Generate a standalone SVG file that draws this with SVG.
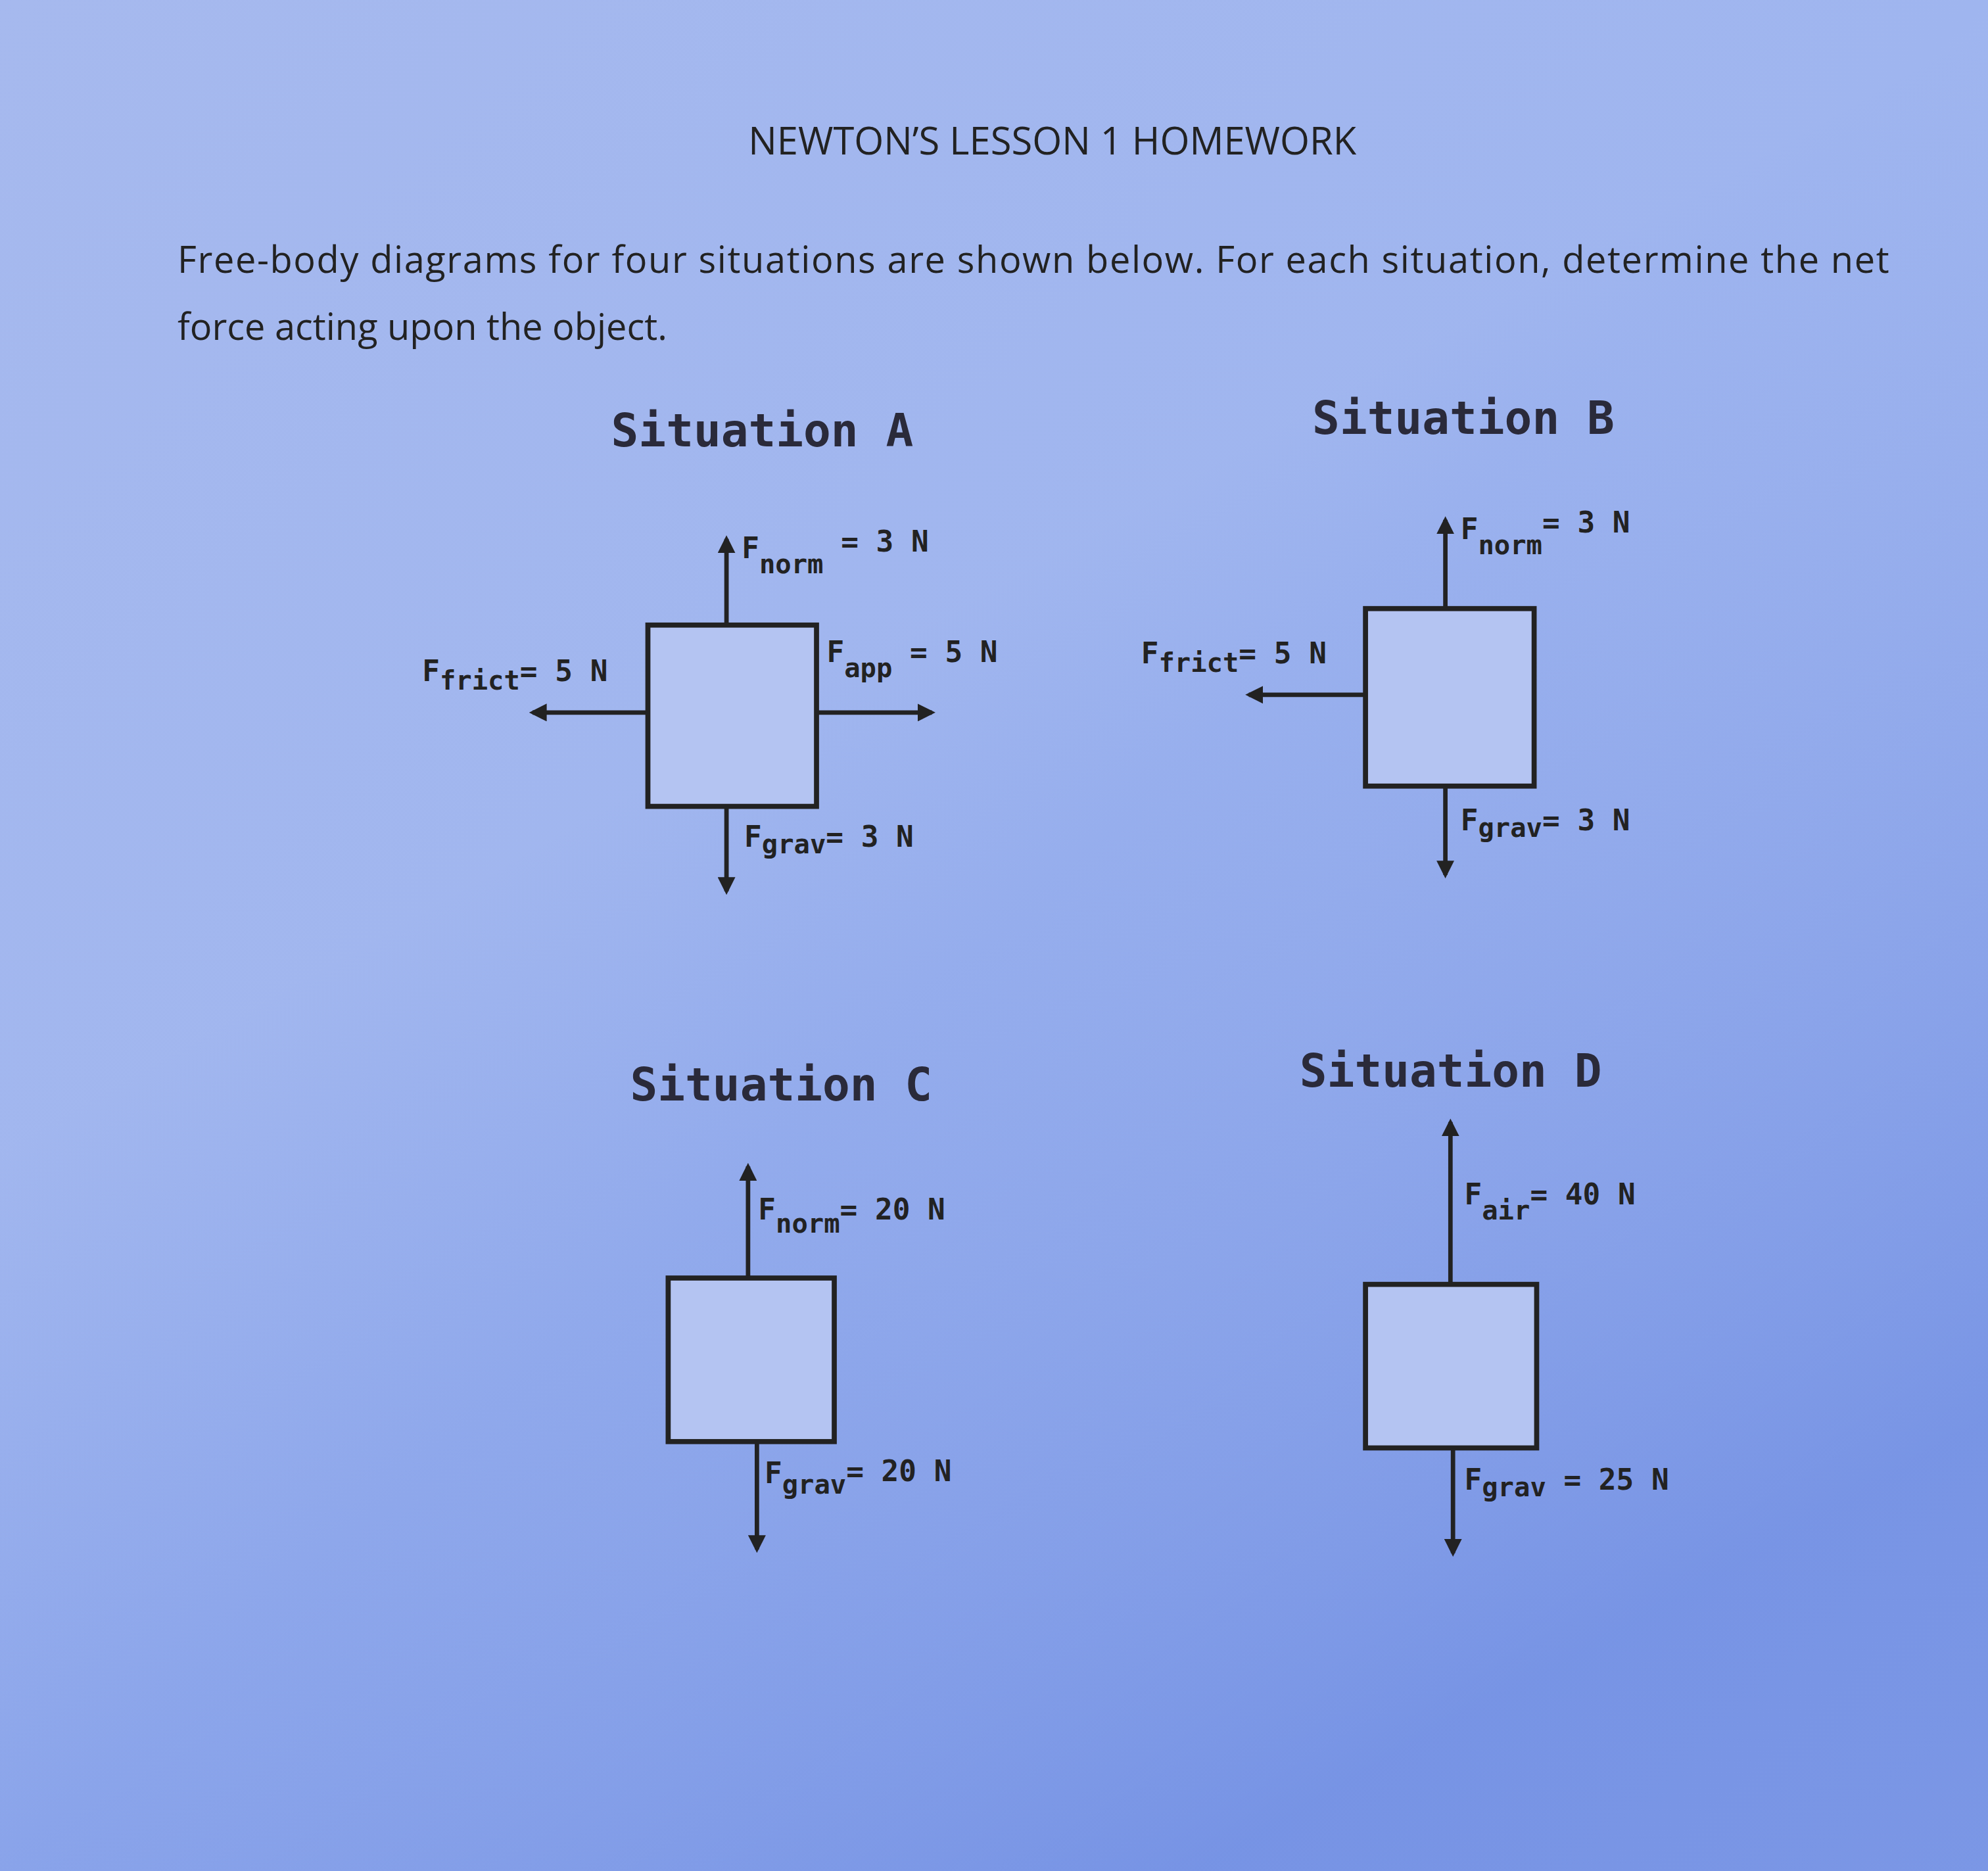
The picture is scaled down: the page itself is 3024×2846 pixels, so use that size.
<svg xmlns="http://www.w3.org/2000/svg" width="3024" height="2846" viewBox="0 0 3024 2846">
<defs>
<linearGradient id="bg" x1="0" y1="0" x2="1" y2="1">
<stop offset="0" stop-color="#a6b9ee"/><stop offset="0.5" stop-color="#9fb5ef"/><stop offset="1" stop-color="#b7c7f3"/>
</linearGradient>
<linearGradient id="bg2" x1="0" y1="0" x2="0.6" y2="1">
<stop offset="0.45" stop-color="#5c7fe0" stop-opacity="0"/><stop offset="1" stop-color="#4a6fda" stop-opacity="0.55"/>
</linearGradient>
<marker id="ah" viewBox="0 0 10 10" refX="8" refY="5" markerWidth="4" markerHeight="4" orient="auto"><path d="M0,0 L10,5 L0,10 z" fill="#222"/></marker>
<style>
.t{font-family:"Open Sans","Liberation Sans",sans-serif;fill:#222}
.s{font-family:"DejaVu Sans Mono","Liberation Mono",monospace;fill:#2a2a3a;font-size:36px;font-weight:bold}
.l{font-family:"DejaVu Sans Mono","Liberation Mono",monospace;fill:#222;font-size:23px;font-weight:bold}
.sub{font-size:21px}
.box{fill:#b4c4f2;stroke:#222;stroke-width:4}
.ar{stroke:#222;stroke-width:3.5;fill:none;marker-end:url(#ah)}
</style>
</defs>
<rect width="3024" height="2846" fill="url(#bg)"/>
<rect width="3024" height="2846" fill="url(#bg2)"/>
<g transform="scale(1.9286)">
<text class="t" x="830" y="122" font-size="30" text-anchor="middle">NEWTON’S LESSON 1 HOMEWORK</text>
<text class="t" x="140" y="215" font-size="29" textLength="1350">Free-body diagrams for four situations are shown below. For each situation, determine the net</text>
<text class="t" x="140" y="268" font-size="29">force acting upon the object.</text>
<text class="s" x="482" y="352">Situation A</text>
<text class="s" x="1035" y="342">Situation B</text>
<text class="s" x="497" y="868">Situation C</text>
<text class="s" x="1025" y="857">Situation D</text>
<g id="connectors">
<line class="ar" x1="573" y1="493" x2="573" y2="425"/>
<line class="ar" x1="573" y1="636" x2="573" y2="703"/>
<line class="ar" x1="511" y1="562" x2="420" y2="562"/>
<line class="ar" x1="644" y1="562" x2="735" y2="562"/>
<line class="ar" x1="1140" y1="480" x2="1140" y2="410"/>
<line class="ar" x1="1140" y1="620" x2="1140" y2="690"/>
<line class="ar" x1="1077" y1="548" x2="985" y2="548"/>
<line class="ar" x1="590" y1="1008" x2="590" y2="920"/>
<line class="ar" x1="597" y1="1137" x2="597" y2="1222"/>
<line class="ar" x1="1144" y1="1013" x2="1144" y2="885"/>
<line class="ar" x1="1146" y1="1142" x2="1146" y2="1225"/>
</g>
<g id="A"><rect class="box" x="511" y="493" width="133" height="143"/>
<text class="l" x="585" y="440">F<tspan class="sub" dy="12">norm</tspan><tspan dy="-17"> = 3 N</tspan></text>
<text class="l" x="333" y="537">F<tspan class="sub" dy="7">frict</tspan><tspan dy="-7">= 5 N</tspan></text>
<text class="l" x="652" y="522">F<tspan class="sub" dy="12">app</tspan><tspan dy="-12"> = 5 N</tspan></text>
<text class="l" x="587" y="668">F<tspan class="sub" dy="5">grav</tspan><tspan dy="-5">= 3 N</tspan></text></g>
<g id="B"><rect class="box" x="1077" y="480" width="133" height="140"/>
<text class="l" x="1152" y="425">F<tspan class="sub" dy="12">norm</tspan><tspan dy="-17">= 3 N</tspan></text>
<text class="l" x="900" y="523">F<tspan class="sub" dy="7">frict</tspan><tspan dy="-7">= 5 N</tspan></text>
<text class="l" x="1152" y="655">F<tspan class="sub" dy="5">grav</tspan><tspan dy="-5">= 3 N</tspan></text></g>
<g id="C"><rect class="box" x="527" y="1008" width="131" height="129"/>
<text class="l" x="598" y="962">F<tspan class="sub" dy="10">norm</tspan><tspan dy="-10">= 20 N</tspan></text>
<text class="l" x="603" y="1170">F<tspan class="sub" dy="8">grav</tspan><tspan dy="-10">= 20 N</tspan></text></g>
<g id="D"><rect class="box" x="1077" y="1013" width="135" height="129"/>
<text class="l" x="1155" y="950">F<tspan class="sub" dy="12">air</tspan><tspan dy="-12">= 40 N</tspan></text>
<text class="l" x="1155" y="1175">F<tspan class="sub" dy="5">grav</tspan><tspan dy="-5"> = 25 N</tspan></text></g>
</g>
</svg>
